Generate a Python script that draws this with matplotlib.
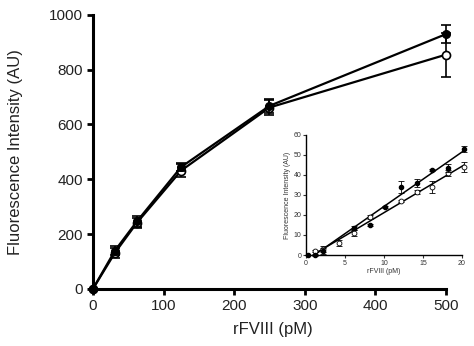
import matplotlib
matplotlib.use("Agg")
import matplotlib.pyplot as plt

plt.rcParams['font.family'] = ['Liberation Sans', 'DejaVu Sans']

# Main data
conc = [0, 31.25, 62.5, 125, 250, 500]
filled_vals = [0, 140, 247, 445, 668, 930]
filled_err = [0, 15, 20, 15, 25, 33]
open_vals = [0, 132, 242, 432, 662, 855]
open_err = [0, 18, 18, 22, 28, 80]

# Inset data
in_x_filled = [0.3, 1.2, 2.2, 6.2, 8.2, 10.1, 12.2, 14.2, 16.2, 18.2, 20.2]
in_y_filled = [0, 0, 2, 13.5, 15, 24, 34, 36, 42.5, 43.5, 53]
in_e_filled = [0, 0.5, 1.5, 1, 0.5, 0.5, 3, 2, 0.5, 2, 1.5]
in_x_open = [1.2, 2.2, 4.2, 6.2, 8.2, 12.2, 14.2, 16.2, 18.2, 20.2]
in_y_open = [2, 3, 6, 11, 19, 27, 31.5, 34, 41, 44]
in_e_open = [0.5, 1.5, 1.5, 1.5, 1, 0.5, 1, 3, 1.5, 2.5]
fit_x = [1.0, 20.2]
fit_filled = [-0.2, 52.0]
fit_open = [0.3, 44.8]

TXT = '#222222'

fig = plt.figure(figsize=(4.74, 3.46), dpi=100)
ax = fig.add_axes([0.196, 0.165, 0.760, 0.792])

ax.errorbar(conc, open_vals, yerr=open_err, color='black', lw=1.6, marker='o',
            ms=5.8, mfc='white', mec='black', mew=1.2, capsize=3.5, elinewidth=1.2, capthick=1.2, zorder=3)
ax.errorbar(conc, filled_vals, yerr=filled_err, color='black', lw=1.6, marker='o',
            ms=5.5, mfc='black', mec='black', capsize=3.5, elinewidth=1.2, capthick=1.2, zorder=4)

ax.set_xlim(0, 510)
ax.set_ylim(0, 1000)
ax.set_xticks([0, 100, 200, 300, 400, 500])
ax.set_yticks([0, 200, 400, 600, 800, 1000])
for s in ['top', 'right']:
    ax.spines[s].set_visible(False)
for s in ['left', 'bottom']:
    ax.spines[s].set_linewidth(2.2)
ax.spines['left'].set_bounds(0, 1000)
ax.spines['bottom'].set_bounds(0, 500)
ax.tick_params(direction='out', length=4, width=2, labelsize=11, pad=3, labelcolor=TXT)
ax.set_xlabel('rFVIII (pM)', fontsize=12, labelpad=7, color=TXT)
ax.set_ylabel('Fluorescence Intensity (AU)', fontsize=12, labelpad=19, color=TXT)
for c in ax.get_children():
    c.set_clip_on(False)

# Inset
ins = fig.add_axes([0.6456, 0.263, 0.329, 0.347])
ins.plot(fit_x, fit_filled, color='black', lw=1.1)
ins.plot(fit_x, fit_open, color='black', lw=1.1)
ins.errorbar(in_x_open, in_y_open, yerr=in_e_open, fmt='o', ms=3.5, mfc='white', mec='black',
             mew=0.6, ecolor='black', elinewidth=0.6, capsize=2, capthick=0.6, zorder=3)
ins.errorbar(in_x_filled, in_y_filled, yerr=in_e_filled, fmt='o', ms=3, mfc='black', mec='black',
             ecolor='black', elinewidth=0.6, capsize=2, capthick=0.6, zorder=4)
ins.set_xlim(0, 20)
ins.set_ylim(0, 60)
ins.set_xticks([0, 5, 10, 15, 20])
ins.set_yticks([0, 10, 20, 30, 40, 50, 60])
for s in ['top', 'right']:
    ins.spines[s].set_visible(False)
for s in ['left', 'bottom']:
    ins.spines[s].set_linewidth(1.0)
ins.patch.set_alpha(0)
ins.tick_params(direction='out', length=2, width=0.8, labelsize=5, pad=1.5, colors='#333333')
ins.set_xlabel('rFVIII (pM)', fontsize=5, labelpad=1, color='#333333')
ins.set_ylabel('Fluorescence Intensity (AU)', fontsize=5, labelpad=2, color='#333333')
for c in ins.get_children():
    try:
        c.set_clip_on(False)
    except Exception:
        pass

fig.savefig('out.png', dpi=100)
